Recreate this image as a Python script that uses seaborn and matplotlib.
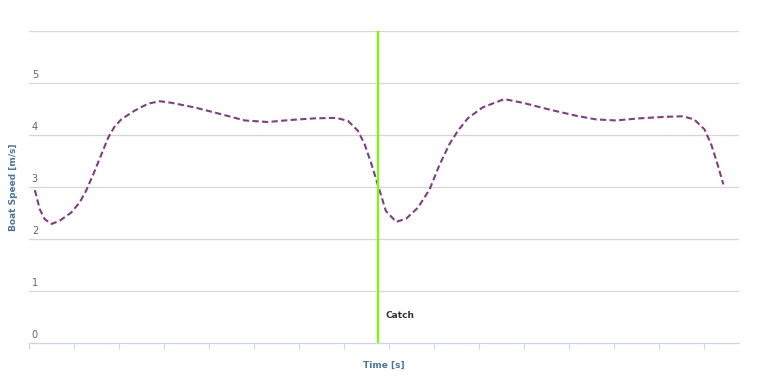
import numpy as np
import pandas as pd
import matplotlib
matplotlib.use("Agg")
import matplotlib.pyplot as plt
import seaborn as sns

# ---- data ----
time_s = [0.13, 0.24, 0.35, 0.50, 0.68, 0.94, 1.13, 1.27, 1.46, 1.61, 1.76, 1.90,
          2.05, 2.35, 2.64, 2.90, 3.16, 3.68, 4.27, 4.79, 5.31, 5.83, 6.35, 6.83,
          7.09, 7.31, 7.46, 7.61, 7.76, 7.93, 8.16, 8.38, 8.64, 8.90, 9.12, 9.34,
          9.53, 9.75, 10.08, 10.56, 10.97, 11.56, 12.16, 12.60, 13.04, 13.56,
          14.16, 14.53, 14.78, 15.01, 15.16, 15.30, 15.43]
boat_speed = [2.94, 2.57, 2.38, 2.29, 2.35, 2.51, 2.71, 2.93, 3.31, 3.63, 3.95, 4.16,
              4.30, 4.47, 4.60, 4.65, 4.62, 4.53, 4.40, 4.28, 4.25, 4.29, 4.32, 4.33,
              4.27, 4.08, 3.82, 3.44, 3.02, 2.54, 2.33, 2.39, 2.60, 2.95, 3.42, 3.82,
              4.08, 4.32, 4.53, 4.69, 4.62, 4.49, 4.37, 4.30, 4.28, 4.32,
              4.35, 4.36, 4.30, 4.11, 3.82, 3.44, 3.05]
catch_time = 7.76
catch_label = "Catch"
y_ticks = [0, 1, 2, 3, 4, 5, 6]
y_tick_labels = ["0", "1", "2", "3", "4", "5", ""]
x_ticks = list(range(0, 16))
x_title = "Time [s]"
y_title = "Boat Speed [m/s]"

df = pd.DataFrame({"t": time_s, "v": boat_speed})

sns.set_theme(style="white")
plt.rcParams["font.family"] = ["DejaVu Sans"]

fig = plt.figure(figsize=(7.68, 3.84), dpi=100)
ax = fig.add_axes([29/768, 1 - 343/384, 710/768, 312/384])

sns.lineplot(data=df, x="t", y="v", ax=ax, color="#7e3f82", linewidth=1.5,
             dashes=False, zorder=3)
ax.lines[0].set_dashes([3, 1.6])
ax.lines[0].set_solid_joinstyle("round")
ax.lines[0].set_dash_joinstyle("round")

ax.set_xlim(0, 710/45)
ax.set_ylim(0, 6)

# grid
ax.set_yticks(y_ticks)
for yv in y_ticks[1:]:
    ax.axhline(yv, color="#d6d6d6", linewidth=0.9, zorder=1)
ax.tick_params(axis="y", length=0, labelleft=False)
for yv, lab in zip(y_ticks, y_tick_labels):
    ax.annotate(lab, xy=(0, yv), xycoords=("axes fraction", "data"),
                xytext=(2, 2.5), textcoords="offset points",
                ha="left", va="bottom", fontsize=7, color="#666666")

# x axis
ax.set_xticks(x_ticks)
ax.set_xticklabels([])
ax.tick_params(axis="x", length=4, width=0.8, color="#ccd6eb", direction="out", bottom=True)
for s in ["top", "right", "left"]:
    ax.spines[s].set_visible(False)
ax.spines["bottom"].set_color("#ccd6eb")
ax.spines["bottom"].set_linewidth(0.9)

# catch line
ax.axvline(catch_time, color="#7cfc00", linewidth=1.6, zorder=4)
ax.text(catch_time + 0.17, 0.52, catch_label, fontsize=6.5, fontweight="bold",
        color="#333333", ha="left", va="center")

ax.set_xlabel(x_title, fontsize=6.5, fontweight="bold", color="#4d759e", labelpad=5.5)
ax.set_ylabel(y_title, fontsize=6.5, fontweight="bold", color="#4d759e", labelpad=8)

fig.savefig("out.png", dpi=100)
